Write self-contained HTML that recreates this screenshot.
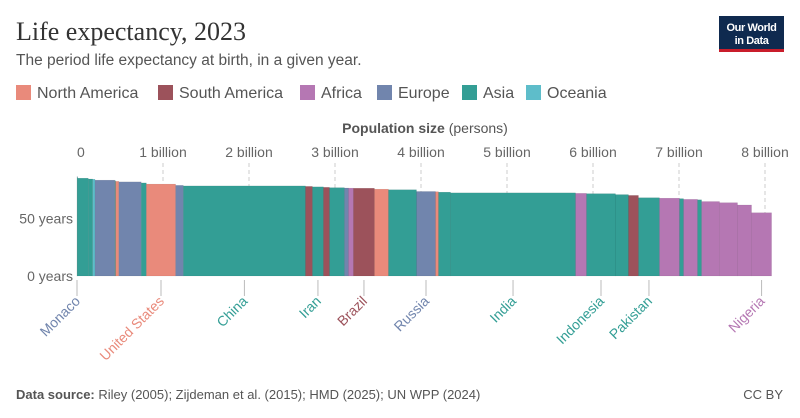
<!DOCTYPE html>
<html><head><meta charset="utf-8"><style>
body{margin:0;background:#fff;font-family:"Liberation Sans",sans-serif;}
svg{display:block}
</style></head><body>
<svg id="chart" width="800" height="418" viewBox="0 0 800 418">
<text x="16" y="40" font-family="Liberation Serif,serif" font-size="26" fill="#333">Life expectancy, 2023</text>
<text x="16" y="65" font-size="15.5" fill="#555">The period life expectancy at birth, in a given year.</text>
<g>
<rect x="719" y="16" width="65" height="36" fill="#0f2a4f"/>
<rect x="719" y="49" width="65" height="3" fill="#c91d2b"/>
<text x="751.5" y="31" text-anchor="middle" font-size="11" fill="#fff" font-weight="bold" letter-spacing="-0.4">Our World</text>
<text x="751.5" y="44" text-anchor="middle" font-size="11" fill="#fff" font-weight="bold" letter-spacing="-0.4">in Data</text>
</g>
<g id="legend"></g>
<text x="425" y="133" text-anchor="middle" font-size="14" fill="#555"><tspan font-weight="bold">Population size</tspan> (persons)</text>
<g id="grid"></g>
<g id="bars"></g>
<g id="axes"></g>
<text x="16" y="399" font-size="13" fill="#555"><tspan font-weight="bold">Data source:</tspan> Riley (2005); Zijdeman et al. (2015); HMD (2025); UN WPP (2024)</text>
<text x="783" y="399" text-anchor="end" font-size="13" fill="#555">CC BY</text>
</svg>
<script>
const regions=["North America","South America","Africa","Europe","Asia","Oceania"];
const regionColors=["#e98a7b","#9c525b","#b577b3","#7185ad","#339e95","#5ebdca"];
const tickValues=[0,1,2,3,4,5,6,7,8];
const tickLabels=["0","1 billion","2 billion","3 billion","4 billion","5 billion","6 billion","7 billion","8 billion"];
const yTicks=[0,50];
const yTickLabels=["0 years","50 years"];
// segments: name, population (millions), life expectancy, region index
const segNames=["Monaco","Hong Kong","Japan","South Korea","Australia","W Europe 1","Europe 2","Canada","Europe 3","Asia hi","United States","Europe 4","China","S America 1","Iran","S America 2","Vietnam","Europe 5","N Africa","Brazil","Mexico","Asia 2","Russia","C America","Asia 3","India","Egypt","Indonesia","Philippines","S America 3","Pakistan","East Africa","Afghanistan","Africa 2","Asia 4","Africa 3","Africa 4","Africa 5","Nigeria"];
const segPops=[0.04,7.5,124,51.7,26.4,230,8,39,260,60,340,90,1420,81,128,70,174,47,58,244,163,326,221,35,140,1453,128,337,151,116,244,233,47,163,47,209,209,163,233];
const segLife=[86.4,85.5,84.7,84.0,83.8,83.0,82.6,82.0,81.5,80.6,79.6,78.5,78.0,77.6,77.2,76.8,76.5,76.2,76.1,76.0,75.2,74.7,73.2,73.0,72.6,72.0,71.6,71.3,70.5,69.8,67.8,67.4,67.0,66.4,66.0,64.5,63.5,61.5,54.8];
const segRegion=[3,4,4,4,5,3,4,0,3,4,0,3,4,1,4,1,4,3,2,1,0,4,3,0,4,4,2,4,4,1,4,2,4,2,4,2,2,2,2];

const NS="http://www.w3.org/2000/svg";
const x0=77,pxPerB=86,yBase=276,pxPerYear=1.155;
const xScale=b=>x0+b*pxPerB;
const yScale=v=>yBase-v*pxPerYear;
function mk(tag,attrs,parent){const e=document.createElementNS(NS,tag);for(const k in attrs)e.setAttribute(k,attrs[k]);parent.appendChild(e);return e;}

const legend=document.getElementById('legend');
const legX=[16,158,300,377,462,526];
regions.forEach((r,i)=>{
  const g=mk('g',{},legend);
  
  
  mk('rect',{x:legX[i],y:85,width:15,height:15,fill:regionColors[i]},g);
  const t=mk('text',{x:legX[i]+21,y:98,'font-size':16,fill:'#555'},g);t.textContent=r;
});

const grid=document.getElementById('grid');
tickValues.forEach((v,i)=>{
  const x=xScale(v);
  if(i>0){const l=mk('line',{x1:x,x2:x,y1:163,y2:yBase,stroke:'#ccc','stroke-dasharray':'4,3'},grid);
  
  }
  const t=mk('text',{x:x,y:157,'text-anchor':i==0?'start':'middle','font-size':14,fill:'#666'},grid);
  
  
  t.textContent=tickLabels[i];
});
yTicks.forEach((v,i)=>{
  const t=mk('text',{x:73,y:yScale(v)+5,'text-anchor':'end','font-size':14,fill:'#666'},grid);
  
  
  t.textContent=yTickLabels[i];
});

const bars=document.getElementById('bars');
let cum=0;
const segX={};
segPops.forEach((p,i)=>{
  const b0=cum/1000,b1=(cum+p)/1000;cum+=p;
  const xa=xScale(b0),xb=xScale(b1);
  segX[segNames[i]]=(xa+xb)/2;
  const r=mk('rect',{x:xa,y:yScale(segLife[i]),width:Math.max(xb-xa,0.3),height:yScale(0)-yScale(segLife[i]),fill:regionColors[segRegion[i]],stroke:'rgba(0,0,0,0.12)','stroke-width':0.4},bars);
  
  
});

const axes=document.getElementById('axes');
const labelNames=["Monaco","United States","China","Iran","Brazil","Russia","India","Indonesia","Pakistan","Nigeria"];
const labelRegions=[3,0,4,4,1,3,4,4,4,2];
labelNames.forEach((n,i)=>{
  const x=n=="Monaco"?x0:segX[n];
  const l=mk('line',{x1:x,x2:x,y1:280,y2:296,stroke:'#bbb'},axes);
  
  
  const t=mk('text',{x:x+4,y:302,'text-anchor':'end','font-size':14,fill:regionColors[labelRegions[i]],transform:`rotate(-45 ${x+4} 302)`},axes);
  
  
  t.textContent=n;
});
</script>
</body></html>
